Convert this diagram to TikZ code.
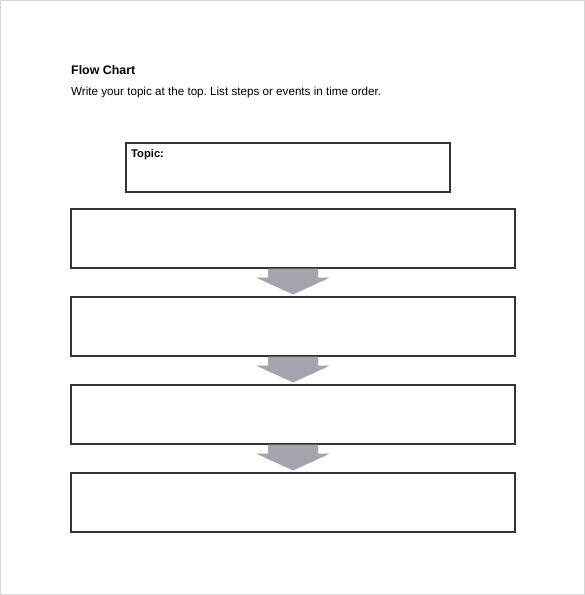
\documentclass[tikz,border=0pt]{standalone}
\usepackage{fontspec}
\setmainfont{Liberation Sans}
\usetikzlibrary{calc}
\definecolor{arrowgray}{HTML}{A5A3AD}
\definecolor{framegray}{HTML}{D6D6D6}
\tikzset{
  stepbox/.style={draw=black!80, line width=1.15pt, rectangle, inner sep=0pt, minimum width=444pt, minimum height=59pt},
  topicbox/.style={draw=black!80, line width=1.15pt, rectangle, inner sep=0pt, minimum width=324pt, minimum height=49pt},
  blockarrow/.style={fill=arrowgray, draw=none},
  label/.style={anchor=base west, inner sep=0pt}
}
\frenchspacing
\begin{document}
\begin{tikzpicture}[x=1pt,y=-1pt]
\useasboundingbox (0,0) rectangle (585,595);
\draw[framegray, line width=1pt] (0.5,0.5) rectangle (584.5,594.5);
\node[label, font=\bfseries\fontsize{12.4}{14}\selectfont] (title) at (71,74.5) {Flow Chart};
\node[label, font=\fontsize{11.65}{13}\selectfont] (instr) at (71,95) {Write your topic at the top. List steps or events in time order.};
\node[topicbox] (topic) at (288,167.5) {};
\node[label, font=\bfseries\fontsize{11.2}{12}\selectfont] (topiclabel) at (131,157.5) {Topic:};
\node[stepbox] (b1) at (293,238.5) {};
\node[stepbox] (b2) at (293,326.5) {};
\node[stepbox] (b3) at (293,414.5) {};
\node[stepbox] (b4) at (293,502.5) {};
\foreach \a/\b in {b1/b2,b2/b3,b3/b4}{
  \fill[blockarrow] ($(\a.south)+(-25,0)$) -- ($(\a.south)+(-25,9)$) -- ($(\a.south)+(-37,9)$)
    -- ($(\b.north)+(0,-2)$) -- ($(\a.south)+(37,9)$) -- ($(\a.south)+(25,9)$) -- ($(\a.south)+(25,0)$) -- cycle;
}
\end{tikzpicture}
\end{document}
